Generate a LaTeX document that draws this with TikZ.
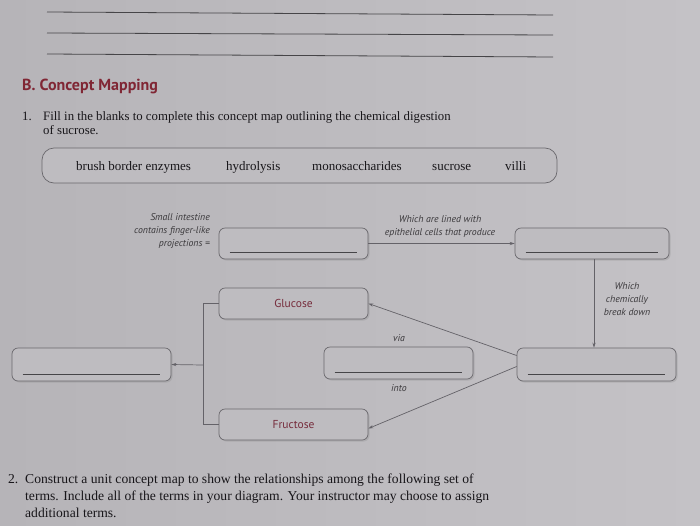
\documentclass[tikz,border=0pt]{standalone}
\usepackage{fontspec}
\setmainfont{Liberation Serif}
\newfontfamily\mapfont{PT Sans}
\usetikzlibrary{shadows,arrows.meta}

\definecolor{paperL}{RGB}{182,180,184}
\definecolor{paperM}{RGB}{206,204,207}
\definecolor{paperR}{RGB}{196,194,198}
\definecolor{boxfill}{RGB}{190,188,192}
\definecolor{boxline}{RGB}{105,103,108}
\definecolor{linkcol}{RGB}{100,98,104}
\definecolor{inkcol}{RGB}{24,22,26}
\definecolor{headred}{RGB}{128,38,52}
\definecolor{termred}{RGB}{118,44,60}

\tikzset{
    blank/.style={draw=boxline, fill=boxfill, rounded corners=6pt, line width=0.7pt,
        inner sep=0pt, drop shadow={opacity=0.25, shadow xshift=1.5pt, shadow yshift=-1.5pt}},
    link/.style={draw=linkcol, line width=0.7pt, -{Stealth[length=5pt,width=3.2pt]}},
    bracket/.style={draw=linkcol, line width=0.7pt},
    rule/.style={draw=inkcol!80, line width=0.8pt},
    cue/.style={font=\mapfont\itshape\fontsize{9.8}{13}\selectfont, text=inkcol!85, align=center, inner sep=0pt},
    term/.style={font=\mapfont\fontsize{11.5}{13}\selectfont, text=termred},
    word/.style={font=\fontsize{13}{15}\selectfont, text=inkcol, anchor=base west, inner sep=0pt},
    body/.style={font=\fontsize{12.8}{15}\selectfont, text=inkcol, anchor=base west, inner sep=0pt},
    body2/.style={font=\fontsize{13.6}{16}\selectfont, text=inkcol, anchor=base west, inner sep=0pt}
}

\begin{document}
\begin{tikzpicture}[x=1pt,y=-1pt]
    \useasboundingbox (0,0) rectangle (700,525);
    \shade[left color=paperL, middle color=paperM, right color=paperR] (0,0) rectangle (700,525);

    % answer lines
    \draw[rule] (47,12) -- (553,15);
    \draw[rule] (47,33) -- (553,35);
    \draw[rule] (47,54) -- (553,57);

    \node[anchor=base west, inner sep=0pt, font=\mapfont\bfseries\fontsize{16}{18}\selectfont, text=headred] (head) at (22,90) {B. Concept Mapping};
    \node[body] (q1) at (22,120) {1.};
    \node[body] (q1a) at (43,120) {Fill in the blanks to complete this concept map outlining the chemical digestion};
    \node[body] (q1b) at (43,134) {of sucrose.};

    % word bank
    \node[draw=boxline, fill=boxfill, rounded corners=12pt, line width=0.7pt, minimum width=515pt, minimum height=35pt] (bank) at (299.5,165.5) {};
    \node[word] (w1) at (76,170) {brush border enzymes};
    \node[word] (w2) at (226,170) {hydrolysis};
    \node[word] (w3) at (312,170) {monosaccharides};
    \node[word] (w4) at (432,170) {sucrose};
    \node[word] (w5) at (505,170) {villi};

    % concept map
    \node[blank, minimum width=149pt, minimum height=31pt] (villi) at (293.5,243.5) {};
    \node[blank, minimum width=154pt, minimum height=31pt] (enzymes) at (592,243.5) {};
    \node[blank, minimum width=159pt, minimum height=33pt] (sucrose) at (596.5,364.5) {};
    \node[blank, minimum width=149pt, minimum height=32pt] (hydrolysis) at (398.5,363) {};
    \node[blank, minimum width=149pt, minimum height=31pt] (glucose) at (293.5,303.5) {};
    \node[blank, minimum width=149pt, minimum height=31pt] (fructose) at (293.5,424.5) {};
    \node[blank, minimum width=159pt, minimum height=33pt] (monosacch) at (91.5,364.5) {};
    \node[term] (gtext) at (glucose) {Glucose};
    \node[term] (ftext) at (fructose) {Fructose};

    \foreach \b in {villi,enzymes,sucrose,hydrolysis,monosacch}
        \draw[rule] ([shift={(11,-7)}]\b.south west) -- ([shift={(-11,-7)}]\b.south east);

    \node[cue, align=right, anchor=east] (c1) at (210,231) {Small intestine\\contains finger-like\\projections =};
    \node[cue] (c2) at (440,226.5) {Which are lined with\\epithelial cells that produce};
    \node[cue] (c3) at (627,299) {Which\\chemically\\break down};
    \node[cue] (c4) at (399,338) {via};
    \node[cue] (c5) at (399,388) {into};

    \draw[link] (villi) -- (enzymes);
    \draw[link] ([xshift=2pt]enzymes.south) -- ([xshift=2pt]enzymes.south |- sucrose.north);
    \draw[link] ([yshift=9pt]sucrose.west) -- (glucose.east);
    \draw[link] ([yshift=-2pt]sucrose.west) -- ([yshift=-4pt]fructose.east);

    \coordinate (join) at (203,365);
    \draw[bracket] (glucose.west) -- (glucose.west -| join) -- (fructose.west -| join) -- (fructose.west);
    \draw[link] (join) -- (monosacch.east);

    \node[body2] (q2) at (8,483) {2.};
    \node[body2] (q2a) at (25,483) {Construct a unit concept map to show the relationships among the following set of};
    \node[body2] (q2b) at (25,500) {terms. Include all of the terms in your diagram. Your instructor may choose to assign};
    \node[body2] (q2c) at (25,517) {additional terms.};
\end{tikzpicture}
\end{document}
